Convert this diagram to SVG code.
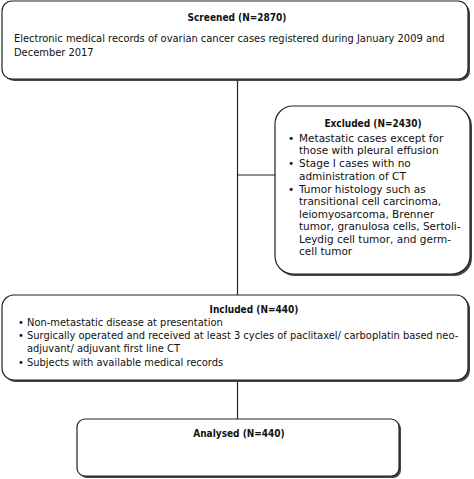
<svg xmlns="http://www.w3.org/2000/svg" width="474" height="479" viewBox="0 0 474 479">
<style>
.box{fill:#fff;stroke:#222;stroke-width:1.2}
.sh{fill:#444}
.t{font-family:"DejaVu Sans Condensed","DejaVu Sans",sans-serif;font-stretch:condensed;font-size:11px;fill:#111}
.b{font-weight:bold;text-anchor:middle;font-size:10px}
.e{font-family:"DejaVu Sans",sans-serif;font-size:10.5px;fill:#111}
.ln{stroke:#222;stroke-width:1.2;fill:none}
</style>
<rect width="474" height="479" fill="#fff"/>
<g id="connectors">
<line class="ln" x1="237.5" y1="79" x2="237.5" y2="295"/>
<line class="ln" x1="237.5" y1="175" x2="275" y2="175"/>
<line class="ln" x1="237.5" y1="380" x2="237.5" y2="419"/>
</g>
<g id="screened">
<rect class="sh" x="4" y="3" width="466" height="78" rx="10"/>
<rect class="box" x="2" y="1" width="466" height="78" rx="10"/>
<text class="t b" x="237" y="21">Screened (N=2870)</text>
<text class="t" x="14" y="42">Electronic medical records of ovarian cancer cases registered during January 2009 and</text>
<text class="t" x="14" y="56">December 2017</text>
</g>
<g id="excluded">
<rect class="sh" x="277" y="108" width="195" height="168" rx="18"/>
<rect class="box" x="275" y="106" width="195" height="168" rx="18"/>
<text class="t b" x="373" y="127">Excluded (N=2430)</text>
<g class="e">
<text x="288" y="141.5">•</text>
<text x="299" y="141.5">Metastatic cases except for</text>
<text x="299" y="154">those with pleural effusion</text>
<text x="288" y="167">•</text>
<text x="299" y="167">Stage I cases with no</text>
<text x="299" y="179.5">administration of CT</text>
<text x="288" y="192.5">•</text>
<text x="299" y="192.5">Tumor histology such as</text>
<text x="299" y="205">transitional cell carcinoma,</text>
<text x="299" y="217.5">leiomyosarcoma, Brenner</text>
<text x="299" y="230">tumor, granulosa cells, Sertoli-</text>
<text x="299" y="242.5">Leydig cell tumor, and germ-</text>
<text x="299" y="255">cell tumor</text>
</g>
</g>
<g id="included">
<rect class="sh" x="4" y="297" width="466" height="85" rx="12"/>
<rect class="box" x="2" y="295" width="466" height="85" rx="12"/>
<text class="t b" x="254" y="313">Included (N=440)</text>
<text class="t" x="18" y="326">•</text>
<text class="t" x="27" y="326">Non-metastatic disease at presentation</text>
<text class="t" x="18" y="339">•</text>
<text class="t" x="27" y="339">Surgically operated and received at least 3 cycles of paclitaxel/ carboplatin based neo-</text>
<text class="t" x="27" y="352">adjuvant/ adjuvant first line CT</text>
<text class="t" x="18" y="366">•</text>
<text class="t" x="27" y="366">Subjects with available medical records</text>
</g>
<g id="analysed">
<rect class="sh" x="79" y="421" width="322" height="57" rx="8"/>
<rect class="box" x="77" y="419" width="322" height="57" rx="8"/>
<text class="t b" x="239" y="437">Analysed (N=440)</text>
</g>
</svg>
